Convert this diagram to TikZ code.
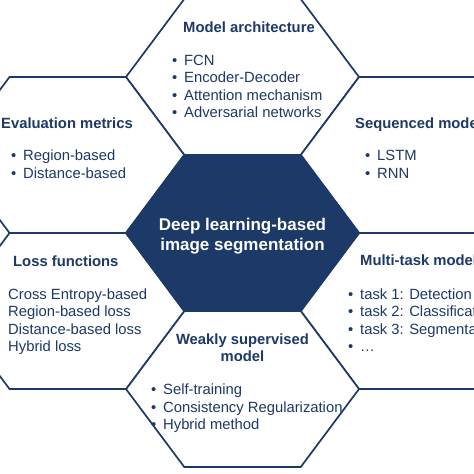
\documentclass[tikz,border=0pt]{standalone}
\usepackage{fontspec}
\setmainfont{Liberation Sans}
\usetikzlibrary{positioning}
\definecolor{navy}{RGB}{28,57,104}
\tikzset{
  hexline/.style={draw=navy, line width=1.7pt, line join=miter},
  hexcore/.style={hexline, fill=navy},
  title/.style={font=\fontsize{14.8}{17}\selectfont\bfseries, text=navy, inner sep=0pt, anchor=base west},
  entry/.style={font=\fontsize{14.8}{17}\selectfont, text=navy, inner sep=0pt, anchor=base west},
  core/.style={font=\fontsize{17}{20}\selectfont\bfseries, text=white, inner sep=0pt, anchor=base},
}
\newcommand{\bul}{\llap{\textbullet\hspace{7pt}}}
\begin{document}
\begin{tikzpicture}[x=1pt,y=-1pt]
\useasboundingbox (0,0) rectangle (474,474);
\clip (0,0) rectangle (474,474);
% outer ring of hexagons
\foreach \cx/\cy in {242.5/77, 417.25/155, 417.25/311, 242.5/389, 67.75/311, 67.75/155}
  \draw[hexline, fill=white] (\cx-116.5,\cy) -- (\cx-58.25,\cy-78) -- (\cx+58.25,\cy-78)
        -- (\cx+116.5,\cy) -- (\cx+58.25,\cy+78) -- (\cx-58.25,\cy+78) -- cycle;
% centre hexagon
\draw[hexcore] (126,233) -- (184.25,155) -- (300.75,155) -- (359,233) -- (300.75,311) -- (184.25,311) -- cycle;
\node[core] (core1) at (242.5,230) {Deep learning-based};
\node[core] (core2) at (242.5,250.5) {image segmentation};
% top
\node[title] (arch) at (183,32) {Model architecture};
\foreach \t [count=\i] in {FCN, Encoder-Decoder, Attention mechanism, Adversarial networks}
  \node[entry] (arch\i) at (184,47.4+17.6*\i) {\bul\t};
% upper left
\node[title] (eval) at (1,128) {Evaluation metrics};
\foreach \t [count=\i] in {Region-based, Distance-based}
  \node[entry] (eval\i) at (23,143.3+17.6*\i) {\bul\t};
% upper right
\node[title] (seq) at (355,128) {Sequenced models};
\foreach \t [count=\i] in {LSTM, RNN}
  \node[entry] (seq\i) at (377,143.3+17.6*\i) {\bul\t};
% lower left
\node[title] (loss) at (13,266) {Loss functions};
\foreach \t [count=\i] in {Cross Entropy-based, Region-based loss, Distance-based loss, Hybrid loss}
  \node[entry] (loss\i) at (8,281.4+17.6*\i) {\t};
% lower right
\node[title] (multi) at (360,265) {Multi-task models};
\foreach \t [count=\i] in {task 1: Detection, task 2: Classification, task 3: Segmentation}
  \node[entry] (multi\i) at (360,281.4+17.6*\i) {\bul\t};
\node[entry] (multi4) at (360,351.8) {\bul\dots};
% bottom
\node[title, anchor=base] (weakhead1) at (242.5,344) {Weakly supervised};
\node[title, anchor=base] (weakhead2) at (242.5,361) {model};
\foreach \t [count=\i] in {Self-training, Consistency Regularization, Hybrid method}
  \node[entry] (weak\i) at (163,377.4+17.4*\i) {\bul\t};
\end{tikzpicture}
\end{document}
